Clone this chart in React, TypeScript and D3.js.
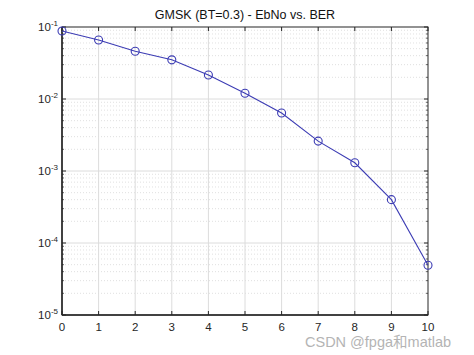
import React, { useRef, useEffect } from 'react';
import * as d3 from 'd3';

const ebno = [0, 1, 2, 3, 4, 5, 6, 7, 8, 9, 10];
const ber = [0.088, 0.066, 0.046, 0.035, 0.0215, 0.012, 0.0064, 0.0026, 0.0013, 0.0004, 0.000049];
const xTicks = [0, 1, 2, 3, 4, 5, 6, 7, 8, 9, 10];
const yExponents = [-1, -2, -3, -4, -5];

const App = () => {
    const svgRef = useRef<SVGSVGElement>(null);

    useEffect(() => {
        d3.select(svgRef.current).selectAll("*").remove();

        const svg = d3.select(svgRef.current);
        const margin = { top: 27, right: 46, bottom: 40, left: 62 };
        const width = 474 - margin.left - margin.right;
        const height = 355 - margin.top - margin.bottom;

        const g = svg.append("g")
            .attr("transform", `translate(${margin.left},${margin.top})`);

        const xScale = d3.scaleLinear().domain([0, 10]).range([0, width]);
        const yScale = d3.scaleLog().domain([1e-5, 1e-1]).range([height, 0]);

        // background
        g.append("rect")
            .attr("width", width)
            .attr("height", height)
            .attr("fill", "#fff");

        // minor grid (dotted)
        const minors: number[] = [];
        for (let e = -5; e < -1; e++) {
            for (let m = 2; m <= 9; m++) minors.push(m * Math.pow(10, e));
        }
        g.selectAll(".minor")
            .data(minors)
            .enter()
            .append("line")
            .attr("x1", 0)
            .attr("x2", width)
            .attr("y1", d => yScale(d))
            .attr("y2", d => yScale(d))
            .attr("stroke", "#d8d8d8")
            .attr("stroke-width", 0.8)
            .attr("stroke-dasharray", "1,2");

        // major grid
        g.selectAll(".vgrid")
            .data(xTicks.slice(1, -1))
            .enter()
            .append("line")
            .attr("x1", d => xScale(d))
            .attr("x2", d => xScale(d))
            .attr("y1", 0)
            .attr("y2", height)
            .attr("stroke", "#dcdcdc")
            .attr("stroke-width", 1);

        g.selectAll(".hgrid")
            .data(yExponents.slice(1, -1))
            .enter()
            .append("line")
            .attr("x1", 0)
            .attr("x2", width)
            .attr("y1", d => yScale(Math.pow(10, d)))
            .attr("y2", d => yScale(Math.pow(10, d)))
            .attr("stroke", "#dcdcdc")
            .attr("stroke-width", 1);

        // tick marks (inward) on all four sides
        const tickLen = 4;
        xTicks.forEach(t => {
            const x = xScale(t);
            g.append("line").attr("x1", x).attr("x2", x).attr("y1", height).attr("y2", height - tickLen)
                .attr("stroke", "#262626");
            g.append("line").attr("x1", x).attr("x2", x).attr("y1", 0).attr("y2", tickLen)
                .attr("stroke", "#262626");
        });
        yExponents.forEach(e => {
            const y = yScale(Math.pow(10, e));
            g.append("line").attr("x1", 0).attr("x2", tickLen).attr("y1", y).attr("y2", y)
                .attr("stroke", "#262626");
            g.append("line").attr("x1", width).attr("x2", width - tickLen).attr("y1", y).attr("y2", y)
                .attr("stroke", "#262626");
        });
        minors.forEach(v => {
            const y = yScale(v);
            g.append("line").attr("x1", 0).attr("x2", 2).attr("y1", y).attr("y2", y)
                .attr("stroke", "#262626").attr("stroke-width", 0.7);
            g.append("line").attr("x1", width).attr("x2", width - 2).attr("y1", y).attr("y2", y)
                .attr("stroke", "#262626").attr("stroke-width", 0.7);
        });

        // box
        g.append("rect")
            .attr("width", width)
            .attr("height", height)
            .attr("fill", "none")
            .attr("stroke", "#262626")
            .attr("stroke-width", 1);
        g.append("line").attr("x1", 0).attr("x2", 0).attr("y1", 0).attr("y2", height)
            .attr("stroke", "#262626").attr("stroke-width", 1.5);
        g.append("line").attr("x1", 0).attr("x2", width).attr("y1", height).attr("y2", height)
            .attr("stroke", "#262626").attr("stroke-width", 1.5);

        // x tick labels
        g.selectAll(".xlabel")
            .data(xTicks)
            .enter()
            .append("text")
            .attr("x", d => xScale(d))
            .attr("y", height + 16)
            .attr("text-anchor", "middle")
            .attr("font-family", "Liberation Sans, Arial, sans-serif")
            .attr("font-size", 11.5)
            .attr("fill", "#262626")
            .text(d => d);

        // y tick labels 10^e
        yExponents.forEach(e => {
            const y = yScale(Math.pow(10, e));
            const t = g.append("text")
                .attr("x", -4)
                .attr("y", y + 4)
                .attr("text-anchor", "end")
                .attr("font-family", "Liberation Sans, Arial, sans-serif")
                .attr("font-size", 11.5)
                .attr("fill", "#262626");
            t.append("tspan").text("10");
            t.append("tspan").attr("dy", -5).attr("font-size", 8).text(`${e}`);
        });

        // line
        const line = d3.line<number>()
            .x((_, i) => xScale(ebno[i]))
            .y(d => yScale(d));

        g.append("path")
            .datum(ber)
            .attr("fill", "none")
            .attr("stroke", "#3c3cb4")
            .attr("stroke-width", 1.1)
            .attr("d", line);

        g.selectAll(".pt")
            .data(ber)
            .enter()
            .append("circle")
            .attr("cx", (_, i) => xScale(ebno[i]))
            .attr("cy", d => yScale(d))
            .attr("r", 4)
            .attr("fill", "none")
            .attr("stroke", "#3c3cb4")
            .attr("stroke-width", 1.1);

        // title
        svg.append("text")
            .attr("x", margin.left + width / 2)
            .attr("y", 19)
            .attr("text-anchor", "middle")
            .attr("font-family", "Liberation Sans, Arial, sans-serif")
            .attr("font-size", 12.5)
            .attr("fill", "#111")
            .text("GMSK (BT=0.3) - EbNo vs. BER");

        // watermark
        svg.append("text")
            .attr("x", 305)
            .attr("y", 347)
            .attr("font-family", "Liberation Sans, Noto Sans CJK SC, sans-serif")
            .attr("font-size", 14.5)
            .attr("fill", "#b4b4b4")
            .text("CSDN @fpga和matlab");
    }, []);

    return (
        <svg ref={svgRef} width={474} height={355}
            style={{ position: "absolute", left: 0, top: 0, background: "#fff" }} />
    );
};

export default App;
